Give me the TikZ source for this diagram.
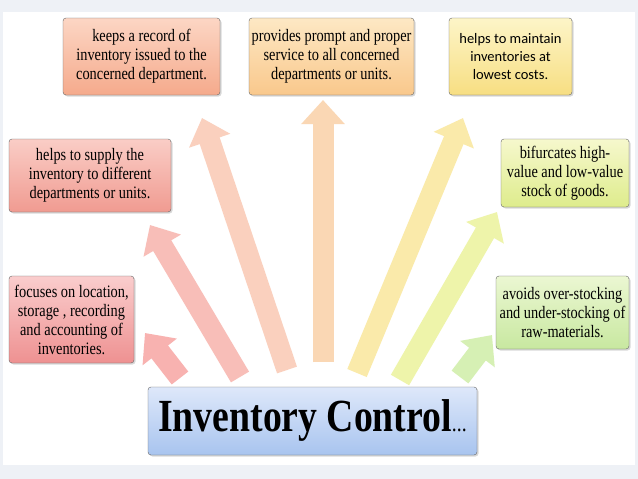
\documentclass[tikz,border=0pt]{standalone}
\usepackage{fontspec}
\newfontfamily\serf[FakeStretch=0.82]{Liberation Serif}
\newfontfamily\calfont{Carlito}
\usetikzlibrary{arrows.meta,shadows}
\definecolor{ca1}{HTML}{F8B2B0}
\definecolor{ca2}{HTML}{F8BEB8}
\definecolor{ca3}{HTML}{FAD0BE}
\definecolor{ca4}{HTML}{FAD7B4}
\definecolor{ca5}{HTML}{FAEAAA}
\definecolor{ca6}{HTML}{EEF4AA}
\definecolor{ca7}{HTML}{D6F0B4}
\definecolor{t1}{HTML}{FCD6C4}\definecolor{u1}{HTML}{F5AA8C}
\definecolor{t2}{HTML}{FDE8C4}\definecolor{u2}{HTML}{F9C88C}
\definecolor{t3}{HTML}{FDF5C8}\definecolor{u3}{HTML}{F7DE82}
\definecolor{t4}{HTML}{FACDC6}\definecolor{u4}{HTML}{F09B91}
\definecolor{t5}{HTML}{F6F8CD}\definecolor{u5}{HTML}{DEEC8C}
\definecolor{t6}{HTML}{FACDCD}\definecolor{u6}{HTML}{EE9191}
\definecolor{t7}{HTML}{EBF7D2}\definecolor{u7}{HTML}{C8E8A0}
\definecolor{tm}{HTML}{DEE8FA}\definecolor{um}{HTML}{A8C4EF}
\definecolor{bg}{HTML}{EEF1F6}
\begin{document}
\begin{tikzpicture}[x=1pt,y=-1pt,
 bx/.style={draw=black!60,rounded corners=3,drop shadow={opacity=0.3,shadow xshift=1.5pt,shadow yshift=-1.5pt},align=center,inner sep=2pt,font=\serf\fontsize{17.5}{19}\selectfont},
 ar/.style={line width=21pt,-{Triangle[width=42pt,length=24pt]},draw=#1}]
\useasboundingbox (0,0) rectangle (638,479);
\fill[bg] (0,0) rectangle (638,479);
\fill[white] (3,12) rectangle (635,465);
% arrows
\coordinate (a1s) at (180,378); \coordinate (a1t) at (145,333);
\coordinate (a2s) at (240,377); \coordinate (a2t) at (150,225);
\coordinate (a3s) at (287,370); \coordinate (a3t) at (202,118);
\coordinate (a4s) at (323,362); \coordinate (a4t) at (323,100);
\coordinate (a5s) at (357,373); \coordinate (a5t) at (463,118);
\coordinate (a6s) at (400,380); \coordinate (a6t) at (497,212);
\coordinate (a7s) at (460,377); \coordinate (a7t) at (492,335);
\draw[ar=ca1] (a1s) -- (a1t);
\draw[ar=ca2] (a2s) -- (a2t);
\draw[ar=ca3] (a3s) -- (a3t);
\draw[ar=ca4] (a4s) -- (a4t);
\draw[ar=ca5] (a5s) -- (a5t);
\draw[ar=ca6] (a6s) -- (a6t);
\draw[ar=ca7] (a7s) -- (a7t);
% boxes
\node[bx,minimum width=157,minimum height=77,top color=t1,bottom color=u1] (b1) at (141.5,56.5) {keeps a record of\\inventory issued to the\\concerned department.};
\node[bx,minimum width=165,minimum height=77,top color=t2,bottom color=u2] (b2) at (331.5,56.5) {provides prompt and proper\\service to all concerned\\departments or units.};
\node[bx,minimum width=123,minimum height=77,font=\calfont\fontsize{14.5}{18}\selectfont,top color=t3,bottom color=u3] (b3) at (510.5,56.5) {helps to maintain\\inventories at\\lowest costs.};
\node[bx,minimum width=162,minimum height=73,top color=t4,bottom color=u4] (b4) at (90,175.5) {helps to supply the\\inventory to different\\departments or units.};
\node[bx,minimum width=128,minimum height=68,top color=t5,bottom color=u5] (b5) at (565,173) {bifurcates high-\\value and low-value\\stock of goods.};
\node[bx,minimum width=125,minimum height=87,top color=t6,bottom color=u6] (b6) at (71.5,319.5) {focuses on location,\\storage , recording\\and accounting of\\inventories.};
\node[bx,minimum width=133,minimum height=73,top color=t7,bottom color=u7] (b7) at (562.5,312.5) {avoids over-stocking\\and under-stocking of\\raw-materials.};
\node[bx,minimum width=329,minimum height=68,font=\serf\fontsize{46}{48}\selectfont\bfseries,top color=tm,bottom color=um] (m) at (312.5,421) {Inventory Control\textmd{\fontsize{24}{24}\selectfont...}};
\end{tikzpicture}
\end{document}
